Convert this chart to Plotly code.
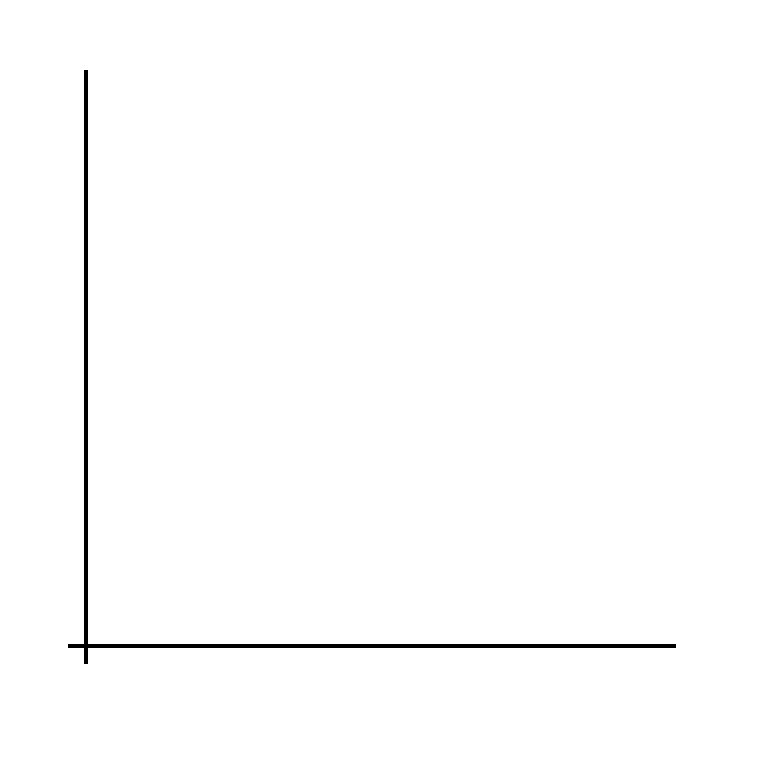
import plotly.graph_objects as go

# The reference chart shows only its two axes, with no plotted data.
x_values = []
y_values = []
x_range = [-3, 97]
y_range = [-3, 96]

fig = go.Figure()
fig.add_trace(go.Scatter(x=x_values, y=y_values, mode="markers", showlegend=False))

axis_common = dict(
    type="linear",
    showgrid=False,
    showline=False,
    showticklabels=False,
    ticks="",
    zeroline=True,
    zerolinecolor="black",
    zerolinewidth=3.5,
    fixedrange=True,
)

fig.update_layout(
    width=768,
    height=768,
    margin=dict(l=60, r=100, t=62, b=112),
    paper_bgcolor="white",
    plot_bgcolor="white",
    xaxis=dict(range=x_range, **axis_common),
    yaxis=dict(range=y_range, **axis_common),
)

fig.write_html("out.html")
